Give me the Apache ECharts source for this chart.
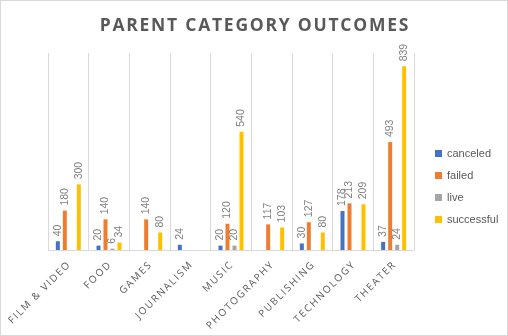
<!DOCTYPE html>
<html>
<head>
<meta charset="utf-8">
<script src="https://cdn.jsdelivr.net/npm/echarts@6/dist/echarts.min.js"></script>
<style>
  html, body { margin: 0; padding: 0; background: #fff; }
  #wrap { width: 508px; height: 336px; box-sizing: border-box; border: 1px solid #d9d9d9; position: relative; }
  #chart { position: absolute; left: -1px; top: -1px; width: 508px; height: 336px; }
</style>
</head>
<body>
<div id="wrap"><div id="chart"></div></div>
<script>
// Kickstarter outcomes by parent category
const categories = ['Film & Video', 'Food', 'Games', 'Journalism', 'Music', 'Photography', 'Publishing', 'Technology', 'Theater'];
const canceled   = [40, 20, null, 24, 20, null, 30, 178, 37];
const failed     = [180, 140, 140, null, 120, 117, 127, 213, 493];
const live       = [null, 6, null, null, 20, null, null, null, 24];
const successful = [300, 34, 80, null, 540, 103, 80, 209, 839];
const yTicks = { min: 0, max: 900 };

const seriesNames  = ['canceled', 'failed', 'live', 'successful'];
const seriesData   = [canceled, failed, live, successful];
const seriesColors = ['#4472C4', '#ED7D31', '#A5A5A5', '#FFC000'];

// spread letters apart with a narrow space
const spaced = (s, gap) => s.toUpperCase().split('').join(gap);

const chart = echarts.init(document.getElementById('chart'));
chart.setOption({
  animation: false,
  title: {
    text: spaced('Parent Category Outcomes', '\u200A'),
    left: 'center',
    top: 12,
    textStyle: { fontFamily: 'Open Sans', fontWeight: 'bold', fontSize: 17.5, color: '#595959' }
  },
  legend: {
    orient: 'vertical',
    left: 435,
    top: 148,
    padding: 0,
    itemWidth: 7,
    itemHeight: 7,
    itemGap: 11,
    icon: 'rect',
    data: seriesNames,
    textStyle: { fontFamily: 'Liberation Sans', fontSize: 11, color: '#595959' }
  },
  grid: { left: 48, right: 94, top: 53, bottom: 86, containLabel: false },
  xAxis: {
    type: 'category',
    data: categories,
    axisLine: { show: true, lineStyle: { color: '#d9d9d9', width: 1 } },
    axisTick: { show: false },
    splitLine: { show: true, lineStyle: { color: '#d9d9d9', width: 1 } },
    axisLabel: {
      interval: 0,
      rotate: 45,
      margin: 14,
      formatter: v => spaced(v, '\u2009'),
      fontFamily: 'Open Sans',
      fontSize: 10,
      color: '#595959'
    }
  },
  yAxis: {
    type: 'value',
    min: yTicks.min,
    max: yTicks.max,
    show: false,
    splitLine: { show: false }
  },
  series: seriesNames.map((name, i) => ({
    name,
    type: 'bar',
    data: seriesData[i],
    barWidth: 4,
    barGap: '75%',
    itemStyle: { color: seriesColors[i] },
    label: {
      show: true,
      position: 'top',
      rotate: 90,
      align: 'left',
      verticalAlign: 'middle',
      distance: 5,
      fontFamily: 'Liberation Sans',
      fontSize: 10.5,
      color: '#7f7f7f'
    }
  }))
});
</script>
</body>
</html>
